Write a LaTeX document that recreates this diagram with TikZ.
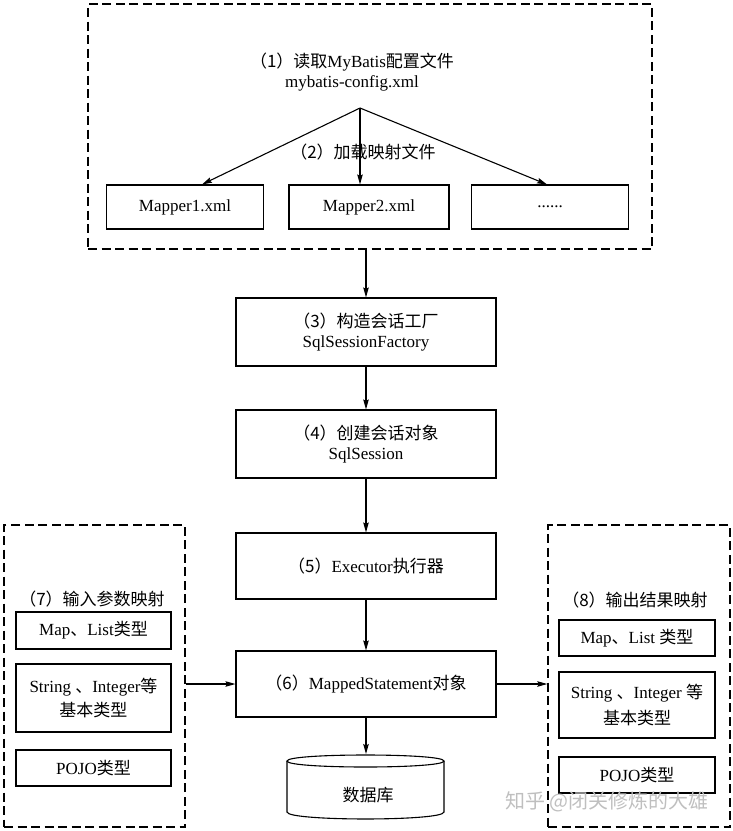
\documentclass[tikz,border=0pt]{standalone}
\usepackage{fontspec}
\setmainfont{Liberation Serif}
\newfontfamily\cjk{Noto Sans CJK SC}
\newcommand\zh[1]{{\cjk #1}}
\usetikzlibrary{arrows.meta}
\begin{document}
\begin{tikzpicture}[x=1pt,y=-1pt,
  every node/.style={font=\fontsize{17}{20}\selectfont},
  box/.style={draw, line width=1.1pt, inner sep=0pt, align=center},
  dbox/.style={draw, line width=1.4pt, dash pattern=on 9pt off 4.5pt, inner sep=0pt},
  txt/.style={inner sep=0pt, align=center},
  arr/.style={line width=1.1pt, -{Stealth[length=10pt,width=5.5pt,inset=1.5pt]}},
  ln/.style={line width=1.1pt}]
\useasboundingbox (0,0) rectangle (733,831);
% top container
\node[dbox, minimum width=564pt, minimum height=245pt] (top) at (370,126.5) {};
\node[txt] (t1) at (352,72) {\zh{（1）读取}MyBatis\zh{配置文件}\\mybatis-config.xml};
\coordinate (apex) at (360,108);
\node[box, minimum width=157pt, minimum height=44pt] (m1) at (185,207) {Mapper1.xml};
\node[box, minimum width=160pt, minimum height=44pt] (m2) at (369,207) {Mapper2.xml};
\node[box, minimum width=157pt, minimum height=44pt] (m3) at (550,207) {......};
\node[txt] (t2) at (363,152) {\zh{（2）加载映射文件}};
\draw[arr] (apex) -- ([xshift=17pt]m1.north);
\draw[arr] (apex) -- (apex |- m2.north);
\draw[arr] (apex) -- ([xshift=-3pt]m3.north);
% main chain
\node[box, minimum width=260pt, minimum height=68pt] (b3) at (366,332) {\zh{（3）构造会话工厂}\\SqlSessionFactory};
\node[box, minimum width=260pt, minimum height=68pt] (b4) at (366,444) {\zh{（4）创建会话对象}\\SqlSession};
\node[box, minimum width=260pt, minimum height=66pt] (b5) at (366,566) {\zh{（5）}Executor\zh{执行器}};
\node[box, minimum width=260pt, minimum height=66pt] (b6) at (366,684) {\zh{（6）}MappedStatement\zh{对象}};
\draw[arr] (top.south -| b3.north) -- (b3.north);
\draw[arr] (b3.south) -- (b4.north);
\draw[arr] (b4.south) -- (b5.north);
\draw[arr] (b5.south) -- (b6.north);
% database cylinder
\node[txt] (db) at (368,795) {\zh{数据库}};
\coordinate (dbtop) at (366,754);
\draw[ln] (287,761) .. controls (287,753) and (444,753) .. (444,761)
  .. controls (444,769) and (287,769) .. (287,761) -- cycle;
\draw[ln] (287,761) -- (287,812) .. controls (287,821.3) and (444,821.3) .. (444,812) -- (444,761);
\draw[arr] (b6.south) -- (dbtop);
% left container
\node[dbox, minimum width=181pt, minimum height=302pt] (left) at (94.5,676) {};
\node[txt] (lt) at (92,599) {\zh{（7）输入参数映射}};
\node[box, minimum width=155pt, minimum height=37pt] (la) at (93.5,630.5) {Map\zh{、}List\zh{类型}};
\node[box, minimum width=155pt, minimum height=68pt, font=\fontsize{17}{24}\selectfont] (lb) at (93.5,698) {String \zh{、}Integer\zh{等}\\\zh{基本类型}};
\node[box, minimum width=155pt, minimum height=36pt] (lc) at (93.5,768) {POJO\zh{类型}};
% right container
\node[dbox, minimum width=182pt, minimum height=302pt] (right) at (639,676) {};
\node[txt] (rt) at (635,600) {\zh{（8）输出结果映射}};
\node[box, minimum width=156pt, minimum height=36pt] (ra) at (637,638) {Map\zh{、}List \zh{类型}};
\node[box, minimum width=156pt, minimum height=66pt, font=\fontsize{17}{26}\selectfont] (rb) at (637,705) {String \zh{、}Integer \zh{等}\\\zh{基本类型}};
\node[box, minimum width=156pt, minimum height=36pt] (rc) at (637,775) {POJO\zh{类型}};
% side arrows
\draw[arr] (left.east |- b6.west) -- (b6.west);
\draw[arr] (b6.east) -- (right.west |- b6.east);
% watermark
\node[txt, text=black!25, font=\fontsize{20}{24}\selectfont] (wm) at (607,802) {\zh{知乎 @闭关修炼的大雄}};
\end{tikzpicture}
\end{document}
